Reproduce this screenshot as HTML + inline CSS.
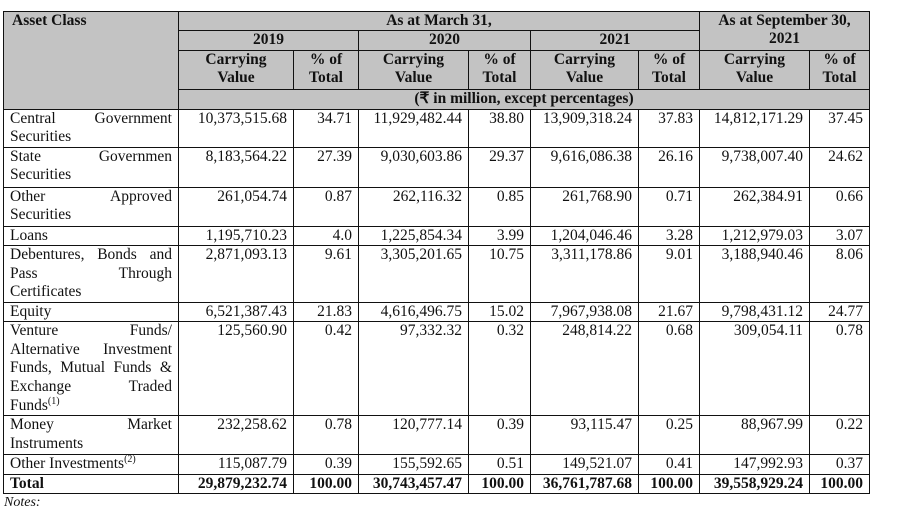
<!DOCTYPE html>
<html><head><meta charset="utf-8"><style>
body{margin:0;background:#fff;width:900px;height:506px;overflow:hidden;position:relative;font-family:"Liberation Serif",serif;font-size:15.5px;color:#111}
table{position:absolute;left:3px;top:11px;border-collapse:collapse;table-layout:fixed}
td{border:1px solid #111;padding:0 6px 0 6px;line-height:18.4px;vertical-align:top;overflow:hidden;white-space:nowrap}
.h td{background:#c3c3c3;font-weight:bold;text-align:center}
td.n{text-align:right}
.j{display:flex;justify-content:space-between;height:18.6px}
.b td{font-weight:bold}
sup{font-size:10px;line-height:0}
.notes{position:absolute;left:4px;top:495px;font-style:italic;font-size:14px}
</style></head><body>
<table>
<colgroup><col style="width:175px"><col style="width:115px"><col style="width:65px"><col style="width:110px"><col style="width:62px"><col style="width:108px"><col style="width:61px"><col style="width:110px"><col style="width:60px"></colgroup>
<tr class="h" style="height:19px"><td rowspan="4" style="text-align:left;padding-left:8px">Asset Class</td><td colspan="6">As at March 31,</td><td colspan="2" rowspan="2">As at September 30,<br>2021</td></tr>
<tr class="h" style="height:19px"><td colspan="2">2019</td><td colspan="2">2020</td><td colspan="2">2021</td></tr>
<tr class="h" style="height:39px"><td>Carrying<br>Value</td><td>% of<br>Total</td><td>Carrying<br>Value</td><td>% of<br>Total</td><td>Carrying<br>Value</td><td>% of<br>Total</td><td>Carrying<br>Value</td><td>% of<br>Total</td></tr>
<tr class="h" style="height:20px"><td colspan="8">(₹ in million, except percentages)</td></tr>
<tr style="height:38px"><td><div class="j"><span>Central</span><span>Government</span></div>Securities</td><td class="n">10,373,515.68</td><td class="n">34.71</td><td class="n">11,929,482.44</td><td class="n">38.80</td><td class="n">13,909,318.24</td><td class="n">37.83</td><td class="n">14,812,171.29</td><td class="n">37.45</td></tr>
<tr style="height:40px"><td><div class="j"><span>State</span><span>Governmen</span></div>Securities</td><td class="n">8,183,564.22</td><td class="n">27.39</td><td class="n">9,030,603.86</td><td class="n">29.37</td><td class="n">9,616,086.38</td><td class="n">26.16</td><td class="n">9,738,007.40</td><td class="n">24.62</td></tr>
<tr style="height:39px"><td><div class="j"><span>Other</span><span>Approved</span></div>Securities</td><td class="n">261,054.74</td><td class="n">0.87</td><td class="n">262,116.32</td><td class="n">0.85</td><td class="n">261,768.90</td><td class="n">0.71</td><td class="n">262,384.91</td><td class="n">0.66</td></tr>
<tr style="height:19px"><td>Loans</td><td class="n">1,195,710.23</td><td class="n">4.0</td><td class="n">1,225,854.34</td><td class="n">3.99</td><td class="n">1,204,046.46</td><td class="n">3.28</td><td class="n">1,212,979.03</td><td class="n">3.07</td></tr>
<tr style="height:56px"><td><div class="j"><span>Debentures,</span><span>Bonds</span><span>and</span></div><div class="j"><span>Pass</span><span>Through</span></div>Certificates</td><td class="n">2,871,093.13</td><td class="n">9.61</td><td class="n">3,305,201.65</td><td class="n">10.75</td><td class="n">3,311,178.86</td><td class="n">9.01</td><td class="n">3,188,940.46</td><td class="n">8.06</td></tr>
<tr style="height:19px"><td>Equity</td><td class="n">6,521,387.43</td><td class="n">21.83</td><td class="n">4,616,496.75</td><td class="n">15.02</td><td class="n">7,967,938.08</td><td class="n">21.67</td><td class="n">9,798,431.12</td><td class="n">24.77</td></tr>
<tr style="height:94px"><td><div class="j"><span>Venture</span><span>Funds/</span></div><div class="j"><span>Alternative</span><span>Investment</span></div><div class="j"><span>Funds,</span><span>Mutual</span><span>Funds</span><span>&amp;</span></div><div class="j"><span>Exchange</span><span>Traded</span></div>Funds<sup>(1)</sup></td><td class="n">125,560.90</td><td class="n">0.42</td><td class="n">97,332.32</td><td class="n">0.32</td><td class="n">248,814.22</td><td class="n">0.68</td><td class="n">309,054.11</td><td class="n">0.78</td></tr>
<tr style="height:39px"><td><div class="j"><span>Money</span><span>Market</span></div>Instruments</td><td class="n">232,258.62</td><td class="n">0.78</td><td class="n">120,777.14</td><td class="n">0.39</td><td class="n">93,115.47</td><td class="n">0.25</td><td class="n">88,967.99</td><td class="n">0.22</td></tr>
<tr style="height:19px"><td>Other Investments<sup>(2)</sup></td><td class="n">115,087.79</td><td class="n">0.39</td><td class="n">155,592.65</td><td class="n">0.51</td><td class="n">149,521.07</td><td class="n">0.41</td><td class="n">147,992.93</td><td class="n">0.37</td></tr>
<tr class="b" style="height:18px"><td>Total</td><td class="n">29,879,232.74</td><td class="n">100.00</td><td class="n">30,743,457.47</td><td class="n">100.00</td><td class="n">36,761,787.68</td><td class="n">100.00</td><td class="n">39,558,929.24</td><td class="n">100.00</td></tr>
</table>
<div class="notes">Notes:</div>
</body></html>
